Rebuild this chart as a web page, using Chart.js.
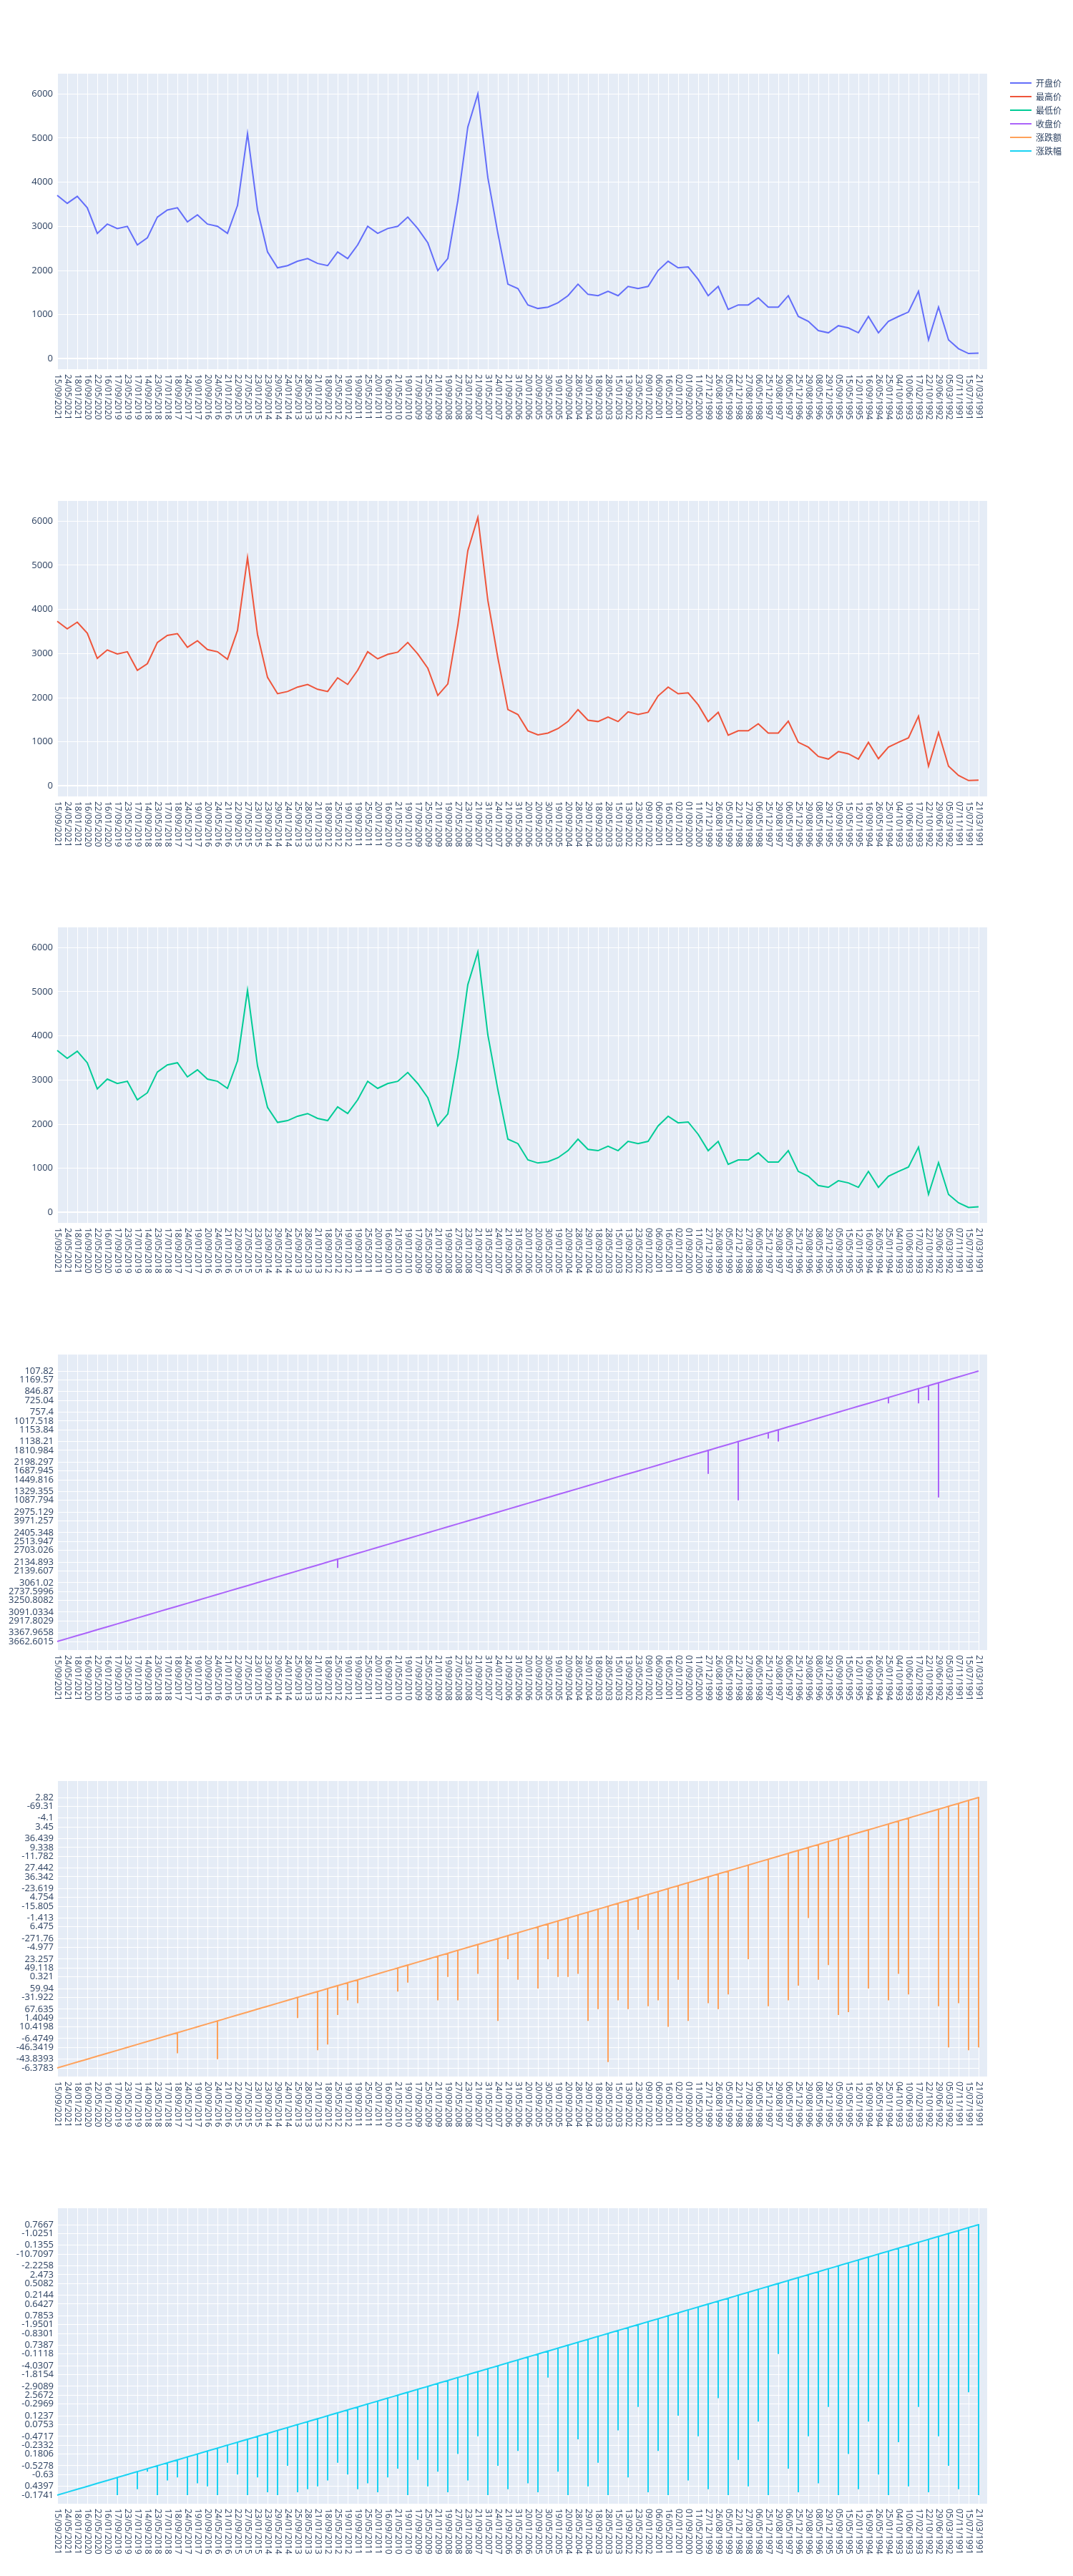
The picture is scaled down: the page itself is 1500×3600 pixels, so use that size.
<!DOCTYPE html>
<html>
<head>
<meta charset="utf-8">
<script src="https://cdn.jsdelivr.net/npm/chart.js@4"></script>
<style>
  body { margin: 0; background: #fff; width: 1500px; height: 3600px; position: relative; font-family: "Open Sans", sans-serif; }
  canvas { position: absolute; left: 0; }
  #legend { position: absolute; left: 1412px; top: 106px; font: 12px "Noto Sans CJK SC", "Open Sans", sans-serif; color: #2a3f5f; }
  #legend div { height: 19px; display: flex; align-items: center; }
  #legend span { display: inline-block; width: 30px; height: 2px; margin-right: 6px; }
</style>
</head>
<body>
<canvas id="c0" width="1500" height="597" style="top:0px"></canvas>
<canvas id="c1" width="1500" height="597" style="top:597px"></canvas>
<canvas id="c2" width="1500" height="597" style="top:1193px"></canvas>
<canvas id="c3" width="1500" height="597" style="top:1790px"></canvas>
<canvas id="c4" width="1500" height="597" style="top:2386px"></canvas>
<canvas id="c5" width="1500" height="597" style="top:2983px"></canvas>
<div id="legend"></div>
<script>
// ---- data ----
const dates = ["15/09/2021","24/05/2021","18/01/2021","16/09/2020","22/05/2020","16/01/2020","17/09/2019","23/05/2019","17/01/2019","14/09/2018",
  "23/05/2018","17/01/2018","18/09/2017","24/05/2017","19/01/2017","20/09/2016","24/05/2016","21/01/2016","22/09/2015","27/05/2015",
  "23/01/2015","23/09/2014","29/05/2014","24/01/2014","25/09/2013","28/05/2013","21/01/2013","18/09/2012","25/05/2012","19/01/2012",
  "19/09/2011","25/05/2011","20/01/2011","16/09/2010","21/05/2010","19/01/2010","17/09/2009","25/05/2009","21/01/2009","19/09/2008",
  "27/05/2008","23/01/2008","21/09/2007","31/05/2007","24/01/2007","21/09/2006","31/05/2006","20/01/2006","20/09/2005","30/05/2005",
  "19/01/2005","20/09/2004","28/05/2004","29/01/2004","18/09/2003","28/05/2003","15/01/2003","13/09/2002","23/05/2002","09/01/2002",
  "06/09/2001","16/05/2001","02/01/2001","01/09/2000","11/05/2000","27/12/1999","26/08/1999","05/05/1999","22/12/1998","27/08/1998",
  "06/05/1998","25/12/1997","29/08/1997","06/05/1997","25/12/1996","29/08/1996","08/05/1996","29/12/1995","05/09/1995","15/05/1995",
  "12/01/1995","16/09/1994","26/05/1994","25/01/1994","04/10/1993","10/06/1993","17/02/1993","22/10/1992","29/06/1992","05/03/1992",
  "07/11/1991","15/07/1991","21/03/1991"];

const openPrice = [3700,3520,3680,3420,2840,3050,2950,3000,2580,2740,
  3210,3370,3420,3100,3260,3050,3000,2840,3470,5100,
  3370,2420,2060,2110,2210,2270,2160,2110,2420,2270,
  2580,3000,2840,2950,3000,3210,2950,2630,2000,2270,
  3580,5250,6000,4100,2840,1690,1590,1220,1140,1170,
  1270,1430,1690,1460,1430,1530,1430,1640,1590,1640,
  2000,2210,2060,2080,1800,1430,1640,1120,1220,1220,
  1380,1170,1170,1430,960,850,640,590,750,700,
  590,960,590,850,960,1060,1530,430,1170,430,
  230,120,130];
const highPrice = [3730,3560,3710,3460,2890,3080,2990,3040,2620,2770,
  3250,3410,3450,3140,3290,3090,3040,2870,3520,5170,
  3430,2460,2090,2140,2240,2300,2190,2140,2450,2300,
  2620,3040,2880,2980,3030,3250,2990,2670,2050,2310,
  3640,5330,6080,4200,2900,1730,1620,1250,1160,1200,
  1300,1460,1730,1490,1460,1560,1460,1680,1620,1670,
  2040,2240,2090,2110,1840,1460,1670,1150,1250,1250,
  1410,1200,1200,1470,990,880,670,610,780,730,
  610,990,620,880,990,1090,1580,450,1210,450,
  240,125,132];
const lowPrice = [3670,3490,3650,3390,2800,3020,2920,2970,2550,2710,
  3180,3340,3390,3070,3230,3020,2970,2810,3430,5030,
  3320,2380,2040,2080,2180,2240,2130,2080,2390,2240,
  2550,2970,2810,2920,2970,3170,2920,2600,1960,2230,
  3520,5160,5900,4020,2780,1660,1560,1190,1120,1150,
  1240,1400,1660,1430,1400,1500,1400,1610,1560,1610,
  1960,2180,2030,2050,1770,1400,1610,1090,1190,1190,
  1350,1140,1140,1400,930,820,610,570,720,670,
  570,930,570,820,930,1030,1480,410,1130,410,
  220,115,128];

const priceTicks = [0, 1000, 2000, 3000, 4000, 5000, 6000];

const closeVals = ["3662.6015","3527.3641","3681.0927","3367.9658","2847.5215","3050.1782","2953.4410","2917.8029","2584.2916","2743.6037",
  "3091.0334","3372.1524","3418.8891","3104.6632","3250.8082","3052.7443","3001.9088","2737.5996","3469.4530","5023.6940",
  "3061.02","2422.847","2060.479","2107.985","2139.607","2268.126","2163.354","2134.893","2417.618","2275.383",
  "2581.472","2703.026","2843.715","2948.029","2513.947","3209.537","2951.638","2405.348","2004.172","2271.497",
  "3583.026","3971.257","5834.782","4104.391","2975.129","1692.254","1591.388","1221.743","1087.794","1168.497",
  "1271.352","1329.355","1691.503","1463.108","1432.587","1449.816","1436.225","1642.961","1687.945","1643.772",
  "2003.514","2198.297","2061.325","2078.447","1803.219","1810.984","1641.408","1124.735","1138.21","1224.56",
  "1383.07","1173.42","1153.84","1431.29","962.48","1017.518","641.87","592.23","757.4","703.65",
  "593.38","962.21","725.04","1062.43","1531.72","846.87","1534.19","431.35","1172.06","1169.57",
  "231.75","120.43","107.82"];
const changeVals = ["-6.3783","12.5716","-21.0384","-43.8393","8.2231","30.6642","-15.2019","-46.3419","4.9975","19.7384",
  "-6.4749","25.1563","-9.8812","3.3057","10.4198","-17.6602","41.2395","1.4049","-28.7137","-152.08",
  "67.635","-36.917","15.284","-2.563","-31.922","7.641","22.018","59.94","-13.476","5.882",
  "-19.305","0.321","33.764","-8.117","49.118","-27.593","11.406","23.257","-58.214","18.372",
  "97.365","-4.977","-188.52","130.47","-271.76","-21.906","12.087","-7.354","6.475","-3.218",
  "8.907","-1.413","16.552","-9.671","2.136","-15.805","-6.029","20.713","4.754","-12.388",
  "28.915","-23.619","14.207","-5.746","-30.182","36.342","-18.064","3.917","27.442","-2.675",
  "11.839","-8.431","-11.782","19.526","-14.913","9.338","-4.562","6.283","36.439","-10.174",
  "1.759","-25.846","3.45","17.321","-37.905","-4.1","45.12","-71.08","31.6","-69.31",
  "-8.95","1.27","2.82"];
const pctVals = ["-0.1741","0.3562","-0.5913","0.4397","0.2865","-0.9126","1.0473","-0.63","0.1518","-0.3324",
  "-0.5278","0.8164","-0.2047","0.0932","0.1806","-1.2385","0.5519","-0.2332","-0.7706","-3.0198",
  "-0.4717","1.3372","-0.0584","0.6941","0.0753","-0.8859","0.3407","0.1237","-0.4286","1.1894",
  "-0.6653","-0.2969","0.9208","-1.4472","2.5672","-0.9831","0.4176","-2.9089","1.6285","-2.4417",
  "3.1526","-1.8154","-5.1803","2.9364","-4.0307","-1.2209","0.7562","-0.5891","-0.1118","-0.2784",
  "0.6903","0.7387","1.0254","-0.6632","0.1493","-0.8301","-0.4105","1.2687","-1.9501","-0.7593",
  "1.4836","0.7853","-1.1127","-0.2759","-1.6724","0.6427","-1.0883","0.3481","0.2144","-0.2196",
  "0.8567","-0.7214","0.5082","1.3748","-1.5526","2.473","-0.7138","1.0695","-2.2258","-1.4436",
  "0.2973","-4.3165","-10.7097","1.6618","-2.4781","0.1355","3.0412","-14.2375","2.7124","-1.0251",
  "-3.8804","1.0526","0.7667"];

// days where the value repeats an earlier one: [date index, index of the earlier value]
const closeRepeats = [[28,25],[65,57],[68,48],[71,69],[72,68],[83,81],[86,81],[87,82],[88,49]];
const changeRepeats = [[12,5],[16,3],[24,17],[26,8],[26,6],[27,8],[28,18],[29,23],[30,22],[34,26],[35,29],[38,23],[39,31],[40,23],
  [42,32],[44,16],[45,37],[46,30],[48,27],[49,37],[50,31],[51,31],[52,32],[53,16],[54,20],[55,2],[56,23],[57,20],[58,47],[59,21],
  [60,23],[61,14],[62,30],[62,53],[63,16],[65,22],[66,20],[67,25],[69,37],[69,50],[71,29],[71,21],[73,23],[74,28],[75,51],[76,30],
  [77,35],[78,18],[79,19],[81,27],[81,35],[83,23],[84,32],[85,25],[88,21],[89,7],[90,22],[91,6],[92,28],[92,7]];
const pctRepeats = [[6,2],[6,0],[8,5],[8,2],[9,8],[10,0],[11,5],[12,6],[13,0],[13,11],[14,4],[15,3],[16,0],[16,3],[17,11],[18,7],
  [19,0],[19,12],[20,6],[21,1],[21,18],[22,0],[22,6],[23,10],[24,1],[24,12],[25,2],[26,3],[26,14],[27,5],[28,11],[29,23],[29,7],
  [30,2],[31,16],[31,4],[32,1],[33,20],[33,6],[34,9],[35,0],[35,22],[36,12],[37,3],[37,25],[38,8],[39,1],[39,30],[40,14],[41,5],
  [41,29],[42,20],[43,0],[43,33],[44,10],[45,2],[45,28],[46,37],[46,15],[47,4],[48,26],[48,1],[49,40],[50,8],[50,31],[51,0],
  [52,19],[52,44],[53,3],[54,34],[54,11],[55,47],[55,0],[56,22],[57,6],[57,42],[58,30],[59,1],[59,50],[60,15],[61,0],[61,38],
  [62,27],[63,5],[63,54],[64,20],[65,2],[65,44],[66,33],[67,0],[67,58],[68,12],[69,40],[69,3],[70,25],[71,0],[71,60],[72,48],
  [73,9],[73,35],[74,1],[74,66],[75,20],[76,52],[76,4],[77,30],[78,0],[78,70],[79,14],[79,45],[80,2],[81,60],[81,25],[82,7],
  [82,75],[83,0],[83,40],[84,18],[84,70],[85,3],[85,55],[86,30],[86,78],[87,1],[87,62],[88,20],[88,80],[89,10],[89,45],[90,2],
  [90,72],[91,35],[91,84],[92,0],[92,60],[92,86]];

// category positions that get a y tick label
const catTickIdx = [0,3,7,10,14,17,20,24,27,31,34,37,41,44,48,51,55,58,61,65,68,72,75,78,82,85,89,92];

const names = ["开盘价","最高价","最低价","收盘价","涨跌额","涨跌幅"];
const colors = ["#636efa","#EF553B","#00cc96","#ab63fa","#FFA15A","#19d3f3"];

// ---- layout ----
const FRAME = { left: 80, right: 1380, top: 103, bottom: 516 };
const CAT_PAD_TOP = 23, CAT_PAD_BOTTOM = 12;
Chart.defaults.font.family = '"Open Sans", "Noto Sans", sans-serif';
Chart.defaults.font.size = 12;
Chart.defaults.color = '#2a3f5f';

const framePlugin = {
  id: 'frame',
  beforeDraw(chart) {
    const ctx = chart.ctx, xs = chart.scales.x;
    ctx.save();
    ctx.fillStyle = '#E5ECF6';
    ctx.fillRect(FRAME.left, FRAME.top, FRAME.right - FRAME.left, FRAME.bottom - FRAME.top);
    ctx.strokeStyle = '#ffffff';
    ctx.lineWidth = 1;
    dates.forEach((d, i) => {
      const x = Math.round(xs.getPixelForValue(i)) + 0.5;
      ctx.beginPath();
      ctx.moveTo(x, FRAME.top);
      ctx.lineTo(x, FRAME.bottom);
      ctx.stroke();
    });
    ctx.restore();
  },
  afterDraw(chart) {
    const ctx = chart.ctx, xs = chart.scales.x;
    ctx.save();
    ctx.fillStyle = '#2a3f5f';
    ctx.font = '12px "Open Sans", sans-serif';
    ctx.textAlign = 'left';
    ctx.textBaseline = 'middle';
    dates.forEach((d, i) => {
      ctx.save();
      ctx.translate(xs.getPixelForValue(i), FRAME.bottom + 7);
      ctx.rotate(Math.PI / 2);
      ctx.fillText(d, 0, 0);
      ctx.restore();
    });
    ctx.restore();
  }
};

function xAxis() {
  return { type: 'category', labels: dates, offset: false, display: false };
}

function priceChart(id, values, color, label) {
  new Chart(document.getElementById(id), {
    type: 'line',
    data: { labels: dates, datasets: [{ label, data: values, borderColor: color, borderWidth: 2, pointRadius: 0, tension: 0 }] },
    options: {
      responsive: false, animation: false, devicePixelRatio: 1,
      layout: { padding: { left: 0, right: 1500 - 1368, top: FRAME.top, bottom: 597 - FRAME.bottom } },
      plugins: { legend: { display: false }, tooltip: { enabled: false } },
      scales: {
        x: xAxis(),
        y: {
          min: -235, max: 6455,
          afterFit(s) { s.width = FRAME.left; },
          afterBuildTicks(s) { s.ticks = priceTicks.map(v => ({ value: v })); },
          border: { display: false },
          grid: { color: '#ffffff', lineWidth: c => (c.tick && c.tick.value === 0 ? 2 : 1), drawTicks: false },
          ticks: { padding: 6, font: { size: 13 }, callback: v => String(v) }
        }
      }
    },
    plugins: [framePlugin]
  });
}

function catChart(id, values, repeats, color, label) {
  const pts = [];
  values.forEach((v, k) => {
    pts.push({ x: dates[k], y: v });
    repeats.filter(r => r[0] === k).forEach(r => {
      pts.push({ x: dates[k], y: values[r[1]] });
      pts.push({ x: dates[k], y: v });
    });
  });
  const cats = [...new Set(pts.map(p => p.y))];
  new Chart(document.getElementById(id), {
    type: 'line',
    data: { datasets: [{ label, data: pts, borderColor: color, borderWidth: 2, pointRadius: 0, tension: 0 }] },
    options: {
      responsive: false, animation: false, devicePixelRatio: 1,
      layout: { padding: { left: 0, right: 1500 - 1368, top: FRAME.top + CAT_PAD_TOP, bottom: 597 - FRAME.bottom + CAT_PAD_BOTTOM } },
      plugins: { legend: { display: false }, tooltip: { enabled: false } },
      scales: {
        x: xAxis(),
        y: {
          type: 'category', labels: cats, reverse: true, offset: false,
          afterFit(s) { s.width = FRAME.left; },
          border: { display: false },
          grid: { color: '#ffffff', drawTicks: false },
          ticks: {
            autoSkip: false, padding: 5, font: { size: 13 },
            callback(v, i) { return catTickIdx.includes(i) ? this.getLabelForValue(v) : null; }
          }
        }
      }
    },
    plugins: [framePlugin]
  });
}

priceChart('c0', openPrice, colors[0], names[0]);
priceChart('c1', highPrice, colors[1], names[1]);
priceChart('c2', lowPrice, colors[2], names[2]);
catChart('c3', closeVals, closeRepeats, colors[3], names[3]);
catChart('c4', changeVals, changeRepeats, colors[4], names[4]);
catChart('c5', pctVals, pctRepeats, colors[5], names[5]);

// legend
const legend = document.getElementById('legend');
names.forEach((n, i) => {
  const row = document.createElement('div');
  row.innerHTML = '<span style="background:' + colors[i] + '"></span>' + n;
  legend.appendChild(row);
});
</script>
</body>
</html>
